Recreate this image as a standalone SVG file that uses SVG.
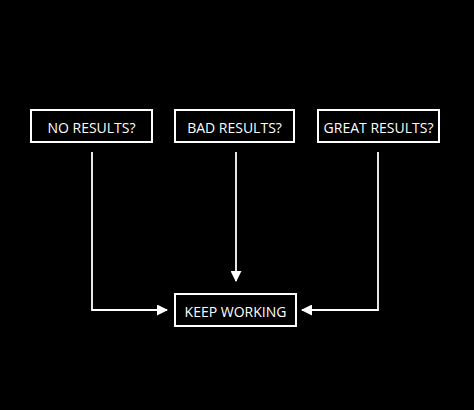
<svg xmlns="http://www.w3.org/2000/svg" width="474" height="410" viewBox="0 0 474 410">
<style>
.box{fill:#000;stroke:#fff;stroke-width:2}
.lbl{fill:#fff;font-family:"Open Sans","DejaVu Sans",sans-serif;font-size:14px;text-anchor:middle;dominant-baseline:central}
.ln{fill:none;stroke:#fff;stroke-width:1.8}
</style>
<defs>
<marker id="ah" markerWidth="11" markerHeight="11" refX="10" refY="5.5" orient="auto" markerUnits="userSpaceOnUse">
<path d="M0,0 L11,5.5 L0,11 Z" fill="#fff"/>
</marker>
</defs>
<rect width="474" height="410" fill="#000"/>
<g id="connectors">
<path class="ln" d="M92,152 V310 H167" marker-end="url(#ah)"/>
<path class="ln" d="M236,152 V281" marker-end="url(#ah)"/>
<path class="ln" d="M378,152 V310 H302" marker-end="url(#ah)"/>
</g>
<g id="no-results">
<rect class="box" x="31" y="110" width="121" height="32"/>
<text class="lbl" x="91.5" y="127">NO RESULTS?</text>
</g>
<g id="bad-results">
<rect class="box" x="175" y="110" width="119" height="32"/>
<text class="lbl" x="234.5" y="127">BAD RESULTS?</text>
</g>
<g id="great-results">
<rect class="box" x="318" y="110" width="121" height="32"/>
<text class="lbl" x="378.5" y="127">GREAT RESULTS?</text>
</g>
<g id="keep-working">
<rect class="box" x="175" y="294" width="121" height="32"/>
<text class="lbl" x="235.5" y="311">KEEP WORKING</text>
</g>
</svg>
